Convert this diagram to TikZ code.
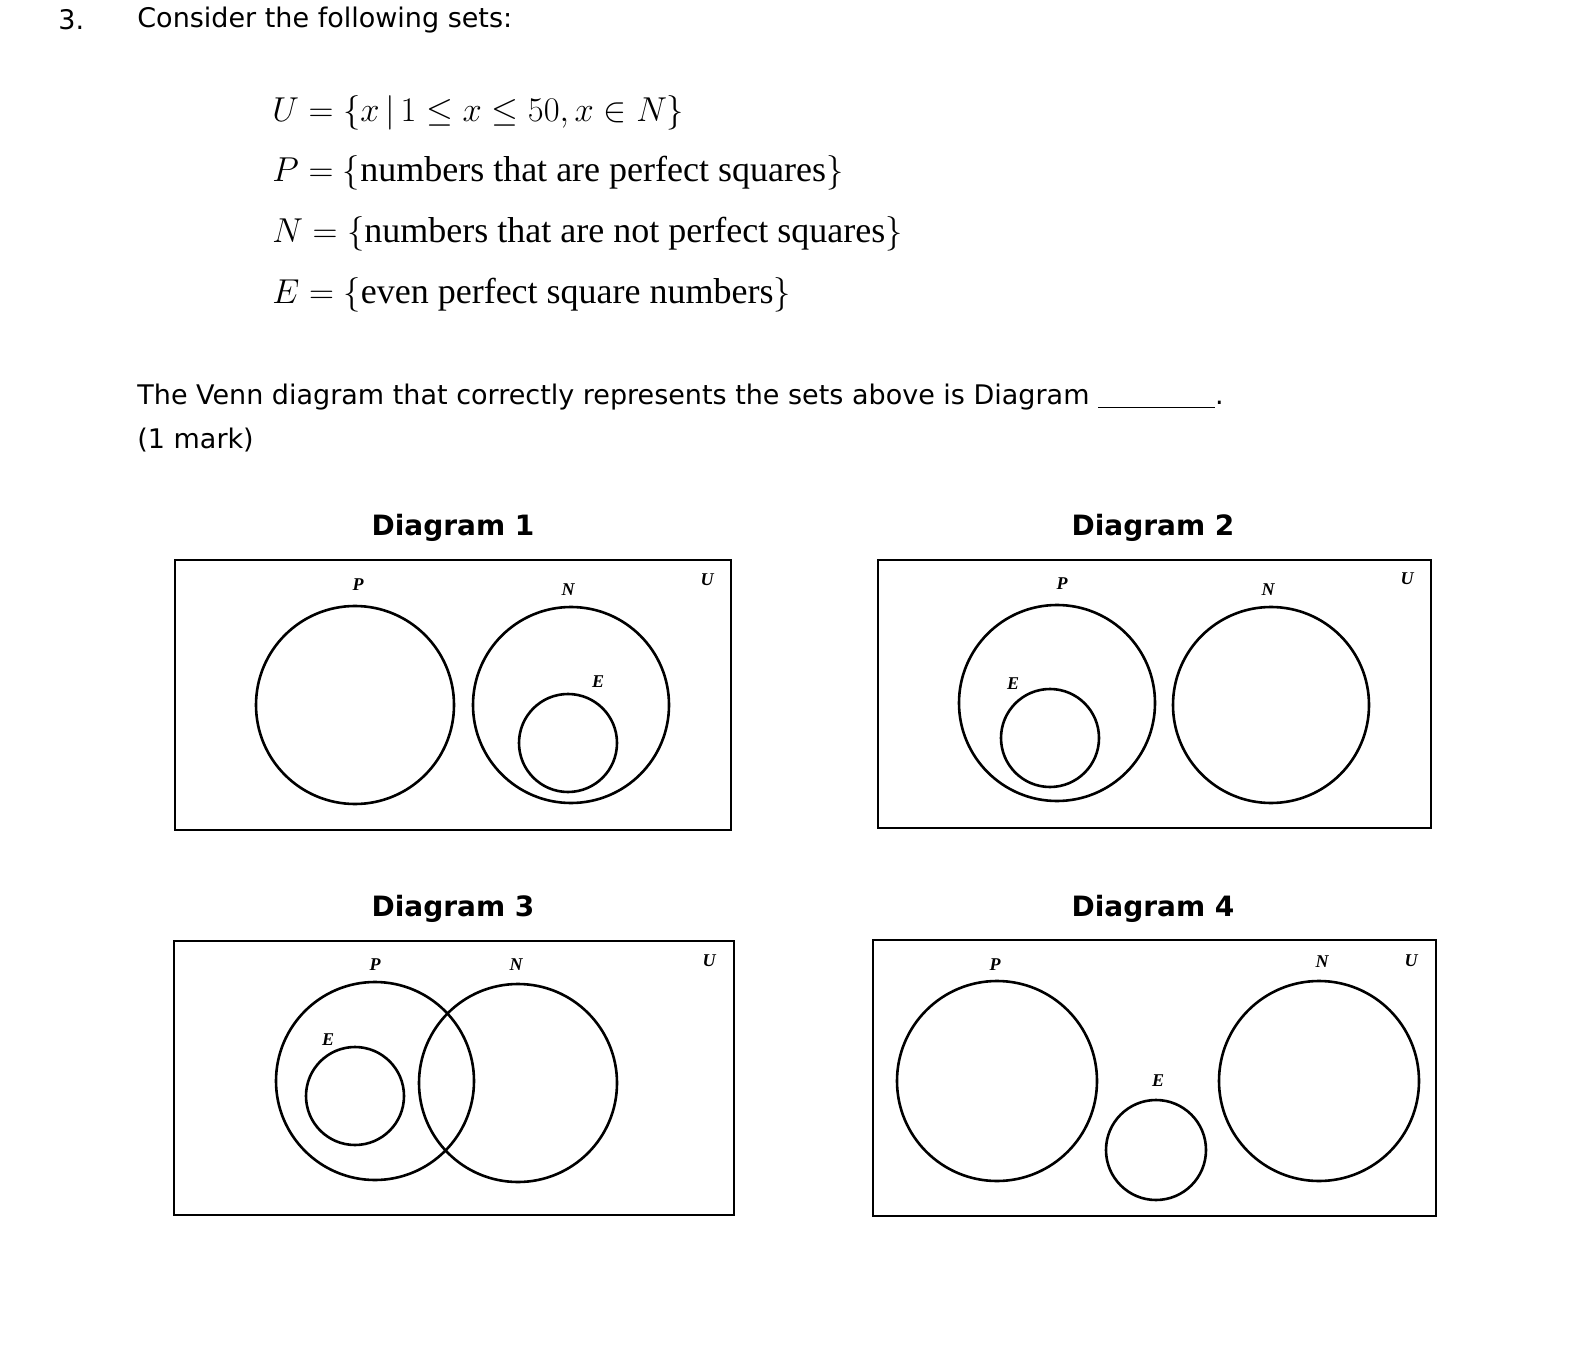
\documentclass[tikz,border=0pt]{standalone}
\usepackage{fontspec}
\setmainfont{Liberation Serif}
\newfontfamily\vsans{DejaVu Sans}
\begin{document}
\begin{tikzpicture}[x=0.5pt,y=-0.5pt,
  hdr/.style={anchor=west,inner sep=0,font=\vsans\fontsize{13.5}{16}\selectfont},
  setdef/.style={anchor=west,inner sep=0,font=\fontsize{18}{20}\selectfont},
  ttl/.style={inner sep=0,font=\vsans\bfseries\fontsize{14}{16}\selectfont},
  ubox/.style={draw,line width=1.3pt},
  vc/.style={draw,circle,line width=1.3pt,inner sep=0},
  lbl/.style={inner sep=0,font=\bfseries\itshape\fontsize{9}{10}\selectfont}]
\useasboundingbox (0,0) rectangle (1590,1352);
\node[hdr] (num) at (58,20) {3.};
\node[hdr] (q) at (137,20) {Consider the following sets:};
\node[setdef] (s1) at (272,113) {$U=\{x\,|\,1\le x\le 50, x\in N\}$};
\node[setdef] (s2) at (272,173) {$P=\{$numbers that are perfect squares$\}$};
\node[setdef] (s3) at (272,234) {$N=\{$numbers that are not perfect squares$\}$};
\node[setdef] (s4) at (272,295) {$E=\{$even perfect square numbers$\}$};
\node[hdr] (t1) at (137,397) {The Venn diagram that correctly represents the sets above is Diagram \rule[-2pt]{58.5pt}{0.6pt}.};
\node[hdr] (t2) at (137,440) {(1 mark)};
% Diagram 1
\node[ttl] (d1) at (453,528) {Diagram 1};
\draw[ubox] (175,560) rectangle (731,830);
\node[lbl] at (358,585) {P}; \node[lbl] at (568,590) {N}; \node[lbl] at (707,580) {U}; \node[lbl] at (598,682) {E};
\node[vc,minimum size=99pt] (p1) at (355,705) {};
\node[vc,minimum size=98pt] (n1) at (571,705) {};
\node[vc,minimum size=49pt] (e1) at (568,743) {};
% Diagram 2
\node[ttl] (d2) at (1153,528) {Diagram 2};
\draw[ubox] (878,560) rectangle (1431,828);
\node[lbl] at (1062,584) {P}; \node[lbl] at (1268,590) {N}; \node[lbl] at (1407,579) {U}; \node[lbl] at (1013,684) {E};
\node[vc,minimum size=98pt] (p2) at (1057,703) {};
\node[vc,minimum size=98pt] (n2) at (1271,705) {};
\node[vc,minimum size=49pt] (e2) at (1050,738) {};
% Diagram 3
\node[ttl] (d3) at (453,909) {Diagram 3};
\draw[ubox] (174,941) rectangle (734,1215);
\node[lbl] at (375,965) {P}; \node[lbl] at (516,965) {N}; \node[lbl] at (709,961) {U}; \node[lbl] at (328,1040) {E};
\node[vc,minimum size=99pt] (p3) at (375,1081) {};
\node[vc,minimum size=99pt] (n3) at (518,1083) {};
\node[vc,minimum size=49pt] (e3) at (355,1096) {};
% Diagram 4
\node[ttl] (d4) at (1153,909) {Diagram 4};
\draw[ubox] (873,940) rectangle (1436,1216);
\node[lbl] at (995,965) {P}; \node[lbl] at (1322,962) {N}; \node[lbl] at (1411,961) {U}; \node[lbl] at (1158,1081) {E};
\node[vc,minimum size=100pt] (p4) at (997,1081) {};
\node[vc,minimum size=100pt] (n4) at (1319,1081) {};
\node[vc,minimum size=50pt] (e4) at (1156,1150) {};
\end{tikzpicture}
\end{document}
